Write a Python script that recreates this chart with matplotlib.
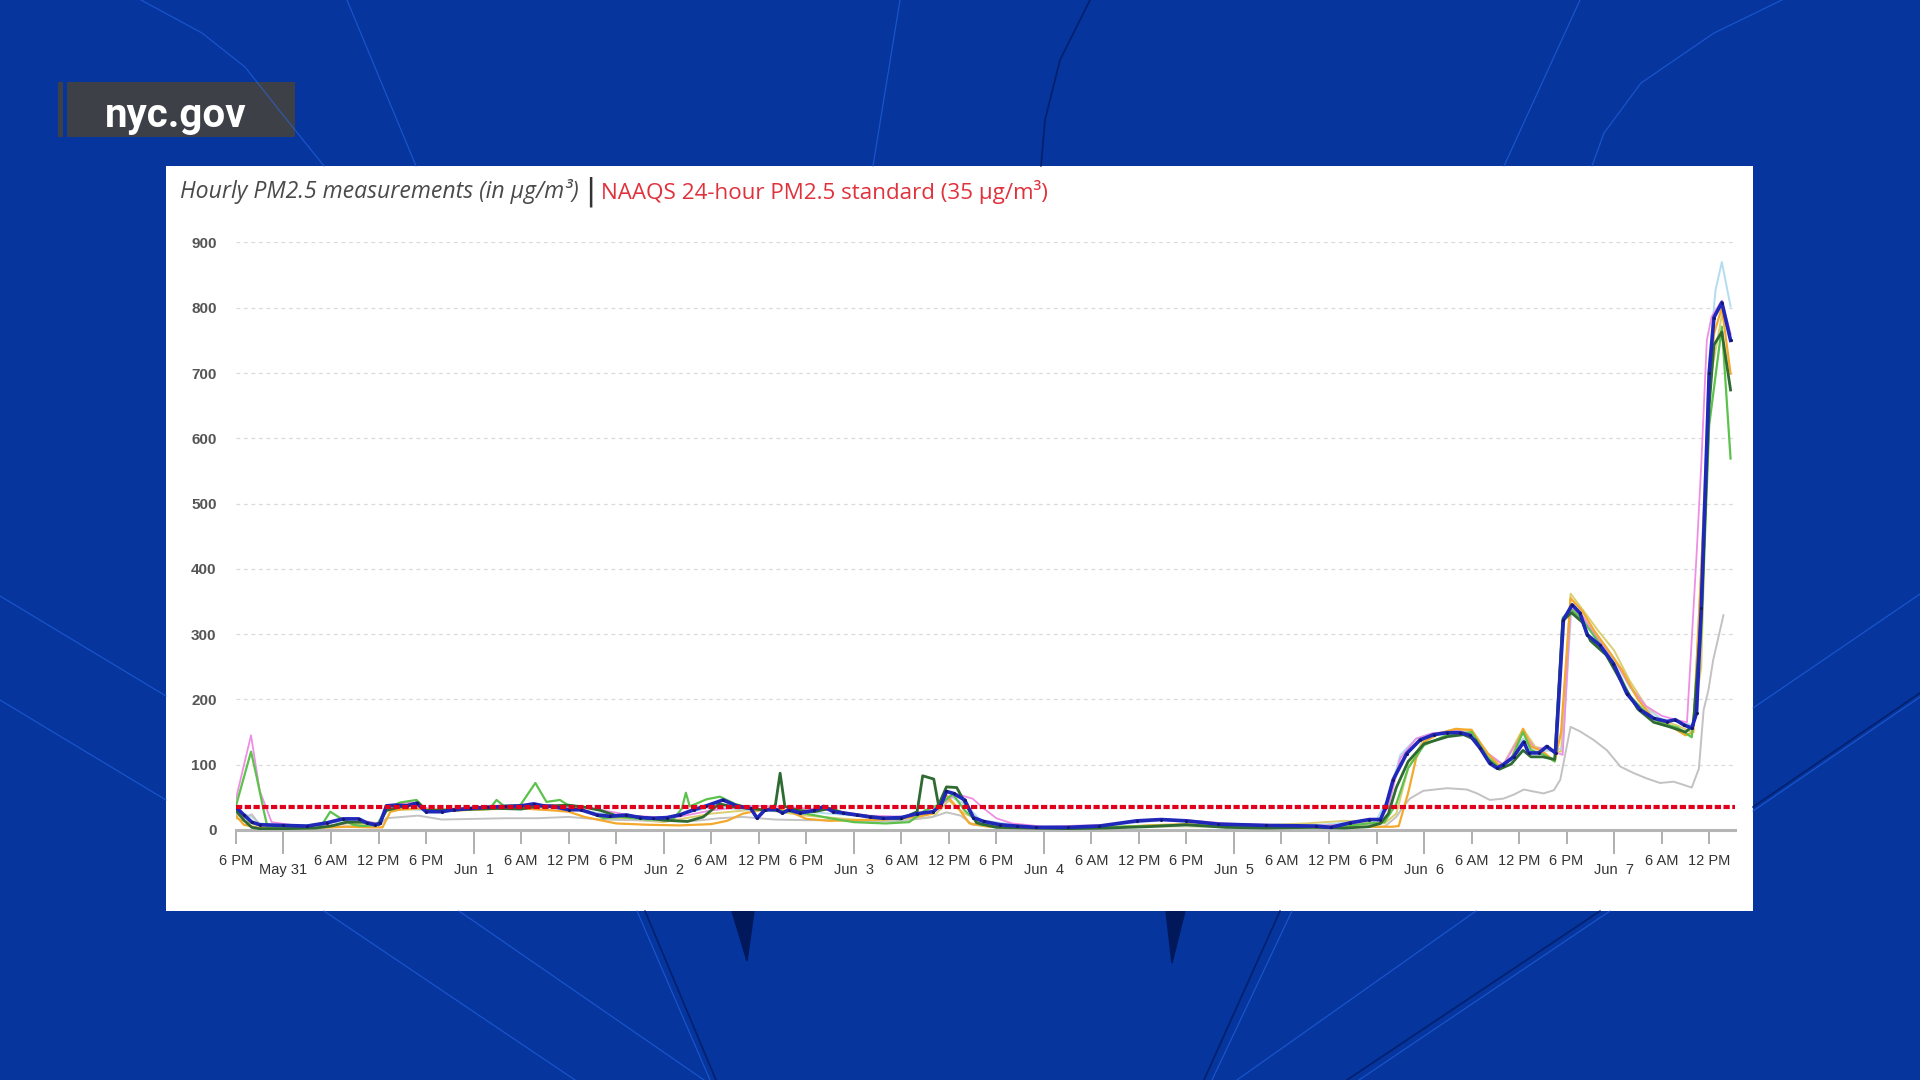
import matplotlib
matplotlib.use("Agg")
import matplotlib.pyplot as plt
from matplotlib.patches import Rectangle, Polygon

plt.rcParams['font.family'] = ['Liberation Sans', 'DejaVu Sans']

# Horas contadas a partir de 30/mai 18h (6 PM)
blue_h = [0, 1, 2, 3, 6, 9, 11.5, 13.5, 15.5, 16.5, 17.5, 18.2, 19, 20.3, 21.6, 22.8, 24, 26, 27.5, 29.6,
          31.7, 34, 36, 37.6, 38.8, 40, 42, 43.5, 45.6, 47.2, 49.3, 51, 52.7, 54.4, 56, 57.8, 59.4, 61.5, 63.2, 65,
          65.8, 66.8, 68.3, 69, 69.8, 71.2, 73, 74.2, 75.4, 76.7, 78.4, 80, 81.7, 84, 86, 88, 89, 89.7, 90.6, 92,
          93.1, 94.4, 96.5, 98.6, 101, 105, 109, 113.7, 116.8, 120, 124, 130, 136.4, 138.2, 140.7, 143.1, 144.5, 145.1, 146.1, 147.8,
          149.5, 151.2, 152.9, 154.6, 155.8, 157.1, 158.3, 159.2, 160, 161.3, 162.6, 163.2, 164.5, 165.5, 166.6, 167.6, 168.7, 169.7, 170.6, 172.2,
          173.9, 175.6, 177.3, 179, 180.7, 181.7, 182.8, 183.8, 184.4, 185, 186, 186.6, 187.6, 188.7]
blue_v = [35, 23, 12, 8, 7, 6, 11, 17, 17, 11, 8, 10, 37, 38, 37, 41, 28, 28, 31, 33,
          35, 36, 37, 40, 37, 36, 31, 31, 23, 21, 23, 19, 18, 19, 23, 31, 37, 46, 37, 33,
          18, 31, 31, 26, 31, 26, 30, 36, 28, 26, 23, 20, 18, 19, 25, 28, 38, 59, 56, 46,
          19, 13, 8, 6, 4, 4, 6, 14, 16, 14, 9, 7, 6, 4, 11, 16, 16, 33, 77, 117,
          138, 146, 149, 149, 145, 125, 102, 95, 100, 112, 135, 118, 118, 128, 118, 322, 345, 332, 299, 283,
          255, 209, 184, 171, 166, 169, 161, 156, 179, 340, 700, 785, 808, 750]

dkgreen_h = [0, 1, 2, 3, 6, 10, 12, 14, 16, 18, 19, 21, 23, 24, 27, 30, 33, 36, 38, 40,
             42, 44, 46, 48, 51, 54, 57, 59, 61, 63, 65, 67, 68.1, 68.7, 69.3, 71, 73, 75, 77, 79,
             82, 84, 86, 86.7, 88.1, 88.7, 89.7, 91, 92.3, 93.5, 96, 100, 105, 110, 115, 120, 125, 130, 136, 140,
             143, 144.5, 145.5, 146.5, 148, 150, 153, 155, 156.5, 158, 159.5, 161, 162.5, 163.5, 165, 166.5, 167.5, 168.6, 170, 171,
             173, 175, 177, 179, 181, 183, 184, 185, 186, 186.6, 187.6, 188.7]
dkgreen_v = [30, 15, 4, 2, 2, 3, 6, 12, 12, 8, 30, 36, 42, 30, 30, 32, 33, 32, 36, 37,
             38, 35, 30, 22, 20, 15, 13, 20, 40, 35, 33, 30, 38, 87, 36, 30, 28, 33, 25, 22,
             18, 17, 28, 83, 78, 38, 66, 65, 36, 11, 4, 3, 2, 3, 5, 8, 4, 3, 4, 3,
             5, 10, 25, 65, 105, 132, 143, 146, 138, 108, 93, 101, 122, 112, 112, 108, 320, 333, 318, 290,
             268, 225, 185, 165, 158, 150, 160, 330, 650, 743, 763, 674]

ltgreen_h = [0, 1.9, 2.6, 3.5, 4, 10.6, 11.9, 13.2, 14.8, 16, 17.8, 19, 20.7, 22.8, 24, 28, 32, 32.9, 33.8, 35.9,
             37.8, 39.2, 40.9, 42.2, 44.3, 46.4, 48.5, 51.9, 55.2, 56.3, 56.8, 57.3, 59.4, 61.1, 63, 65, 68, 70, 72, 75,
             78, 82, 85, 87, 89, 90.5, 92, 94, 98, 105, 115, 120, 125, 135, 140, 143, 145, 146.5, 148, 150,
             153, 156, 158, 159.5, 161, 162.5, 163.5, 165, 166.5, 167.5, 168.6, 170, 172, 174, 176, 178, 180, 182, 183.8, 185,
             186, 187.6, 188.7]
ltgreen_v = [37, 120, 82, 30, 3, 3, 28, 18, 8, 6, 8, 33, 42, 46, 30, 32, 32, 46, 37, 38,
             72, 43, 46, 36, 28, 18, 20, 16, 16, 33, 57, 36, 47, 51, 40, 33, 30, 28, 25, 18,
             12, 10, 12, 30, 40, 55, 30, 8, 4, 3, 6, 8, 5, 4, 6, 10, 12, 40, 95, 130,
             146, 150, 112, 95, 108, 150, 122, 116, 105, 325, 338, 322, 288, 255, 205, 180, 163, 157, 142, 300,
             620, 771, 569]

orange_h = [0, 1, 3, 6, 10, 14, 17, 18.5, 19.5, 21, 23, 25, 28, 32, 36, 40, 42, 44, 46, 48,
            52, 56, 60, 62, 64, 66, 68, 70, 72, 75, 78, 82, 86, 88, 89.7, 91.4, 92.6, 95, 100, 110,
            115, 120, 125, 130, 140, 146, 146.8, 148, 149, 150, 152, 154, 156, 158, 159.5, 161, 162.5, 163.5, 165, 166.5,
            167.3, 168.5, 170, 171.5, 173, 175, 177, 179, 181, 183, 184, 185, 186, 186.6, 187.6, 188.7]
orange_v = [22, 8, 3, 3, 3, 5, 4, 4, 28, 32, 33, 30, 30, 32, 33, 30, 28, 20, 15, 10,
            8, 7, 9, 14, 25, 30, 33, 28, 17, 14, 15, 16, 20, 25, 53, 30, 10, 5, 3, 3,
            7, 9, 5, 3, 5, 5, 6, 57, 110, 135, 148, 155, 153, 118, 98, 108, 155, 128, 120, 105,
            150, 355, 335, 305, 280, 245, 200, 170, 160, 145, 150, 400, 660, 760, 800, 699]

grey_h = [0, 1, 2, 3, 5, 8, 12, 16, 18, 19, 21, 23, 26, 30, 34, 38, 42, 46, 50, 54,
          58, 61, 64, 68, 72, 76, 80, 84, 88, 89.7, 91.5, 93, 96, 100, 110, 120, 130, 140, 145, 146.5,
          147.4, 148.2, 149.9, 152.9, 155.4, 156.7, 158.3, 160, 161.3, 162.6, 163.8, 165.1, 166.4, 167.2, 168.5, 169.7, 171.4, 173.1, 174.8, 176.5,
          178.1, 179.8, 181.5, 182.8, 183.8, 184.7, 185.3, 185.9, 186.5, 187.8]
grey_v = [25, 18, 24, 8, 5, 5, 5, 6, 6, 18, 20, 22, 16, 17, 18, 18, 20, 16, 15, 14,
          14, 18, 20, 16, 15, 15, 13, 14, 20, 27, 22, 8, 5, 4, 4, 6, 4, 4, 5, 20,
          36, 48, 60, 64, 62, 56, 46, 48, 54, 62, 59, 56, 61, 77, 158, 151, 138, 122, 97, 87,
          79, 72, 74, 69, 65, 94, 184, 214, 260, 329]

pink_h = [0, 1.9, 3, 4.5, 8, 12, 16, 18, 19, 22, 25, 30, 35, 40, 45, 50, 55, 60, 65, 70,
          75, 80, 85, 88, 89.7, 91, 93, 94.4, 96, 98, 102, 110, 117, 120, 125, 135, 144, 145.5, 147, 149,
          151, 154, 156, 158, 160, 162.5, 164, 165.5, 167.5, 168.5, 170, 172, 174, 176, 178, 180, 182, 183.2, 184.4, 185,
          185.7, 186.3, 187.6, 188.7]
pink_v = [48, 145, 60, 12, 6, 7, 14, 10, 38, 42, 30, 34, 35, 38, 33, 22, 18, 30, 37, 35,
          30, 22, 20, 28, 45, 55, 48, 33, 18, 10, 5, 8, 16, 15, 10, 6, 10, 35, 110, 140,
          148, 152, 148, 118, 100, 150, 125, 125, 115, 340, 328, 292, 262, 220, 190, 175, 168, 165, 420, 560,
          750, 786, 811, 760]

ltblue_h = [0, 2, 3, 8, 14, 18, 19, 24, 30, 36, 42, 48, 54, 60, 66, 72, 78, 84, 88, 90,
            92, 94, 100, 110, 117, 125, 135, 144, 145.5, 147, 149, 151, 154, 156, 158, 159.5, 161, 162.5, 164, 166,
            167.5, 168.6, 170, 172, 174, 176, 178, 180, 182, 184, 185, 186, 186.8, 187.6, 188.7]
ltblue_v = [30, 20, 10, 6, 14, 9, 35, 30, 34, 36, 32, 22, 18, 35, 30, 28, 22, 20, 28, 52,
            40, 15, 5, 7, 15, 8, 6, 15, 50, 115, 140, 148, 150, 146, 110, 98, 112, 140, 120, 122,
            125, 338, 325, 292, 262, 218, 186, 170, 166, 160, 400, 720, 827, 870, 802]

khaki_h = [0, 2, 4, 10, 14, 18, 19, 24, 30, 36, 42, 48, 54, 60, 66, 72, 78, 84, 88, 90,
           92, 96, 105, 115, 125, 135, 140, 143, 145, 146.5, 148, 150, 153, 156, 158, 160, 162.5, 164, 165.5, 167.3,
           168.5, 170, 172, 174, 176, 178, 180, 182, 183.8, 185, 186, 187.6, 188.7]
khaki_v = [18, 10, 4, 4, 10, 8, 30, 32, 33, 35, 36, 18, 12, 25, 32, 22, 16, 14, 20, 45,
           25, 6, 4, 6, 5, 10, 14, 12, 10, 25, 95, 140, 152, 154, 115, 100, 155, 128, 122, 120,
           362, 338, 305, 275, 228, 190, 168, 160, 150, 250, 680, 789, 760]

naaqs = 35
y_ticks = [0, 100, 200, 300, 400, 500, 600, 700, 800, 900]
day_hours = [6, 30, 54, 78, 102, 126, 150, 174]
day_labels = ["May 31", "Jun  1", "Jun  2", "Jun  3", "Jun  4", "Jun  5", "Jun  6", "Jun  7"]
sub_hours = [0, 12, 18, 24, 36, 42, 48, 60, 66, 72, 84, 90, 96, 108, 114, 120,
             132, 138, 144, 156, 162, 168, 180, 186]
sub_labels = ["6 PM"] + ["6 AM", "12 PM", "6 PM"] * 7 + ["6 AM", "12 PM"]

fig = plt.figure(figsize=(19.2, 10.8), dpi=100, facecolor='#05359d')

# --- fundo (coordenadas em pixels) ---
bg = fig.add_axes([0, 0, 1, 1])
bg.set_xlim(0, 1920)
bg.set_ylim(1080, 0)
bg.axis('off')
bg.set_zorder(0)

luz = '#2d6cf0'
escuro = '#01185a'
linhas_claras = [
    [(141, 0), (202, 33), (245, 67), (279, 110), (324, 166)],
    [(347, 0), (416, 166)],
    [(900, 0), (873, 166)],
    [(1580, 0), (1504, 166)],
    [(1782, 0), (1714, 33), (1641, 83), (1604, 133), (1592, 166)],
    [(324, 911), (575, 1080)],
    [(459, 911), (704, 1080)],
    [(637, 911), (710, 1080)],
    [(1292, 911), (1212, 1080)],
    [(1476, 911), (1237, 1080)],
    [(1610, 911), (1359, 1080)],
    [(1753, 708), (1920, 594)],
    [(1753, 811), (1920, 697)],
    [(0, 596), (166, 696)],
    [(0, 700), (166, 800)],
]
linhas_escuras = [
    [(1090, 0), (1060, 60), (1045, 120), (1041, 166)],
    [(645, 911), (716, 1080)],
    [(1280, 911), (1204, 1080)],
    [(1600, 911), (1347, 1080)],
    [(1753, 807), (1920, 693)],
]
for pts in linhas_claras:
    xs, ys = zip(*pts)
    bg.plot(xs, ys, color=luz, lw=0.9, alpha=0.55)
for pts in linhas_escuras:
    xs, ys = zip(*pts)
    bg.plot(xs, ys, color=escuro, lw=1.2, alpha=0.7)
bg.add_patch(Polygon([(732, 911), (754, 911), (747, 961)], closed=True, color=escuro))
bg.add_patch(Polygon([(1166, 911), (1185, 911), (1172, 963)], closed=True, color=escuro))

# painel branco
bg.add_patch(Rectangle((166, 166), 1587, 745, facecolor='white', edgecolor='none'))

# selo nyc.gov
bg.add_patch(Rectangle((57.5, 82), 5, 55, facecolor='#3d4047', edgecolor='none'))
bg.add_patch(Rectangle((67, 82), 228, 55, facecolor='#3d4047', edgecolor='none'))
bg.text(175.5, 127, "nyc.gov", color='white', fontsize=29, fontweight='bold',
        family='Roboto', ha='center', va='baseline')

# --- titulo ---
t1 = bg.text(180, 192, "Hourly PM2.5 measurements (in µg/m³)", fontsize=16.6, style='italic',
             color='#4a4a4a', family='Open Sans', va='center', ha='left')
t2 = bg.annotate("|", xy=(1, 0.5), xycoords=t1, xytext=(5, 0), textcoords='offset points',
                 fontsize=22, color='#333333', va='center', ha='left', family='DejaVu Sans')
bg.annotate("NAAQS 24-hour PM2.5 standard (35 µg/m³)", xy=(1, 0.5), xycoords=t2, xytext=(4, 0),
            textcoords='offset points', fontsize=16.1, color='#e0323c', va='center', ha='left',
            family='Open Sans')

# --- grafico ---
ax = fig.add_axes([0.1229, 0.2315, 0.7805, 0.544])
ax.set_zorder(2)
ax.set_facecolor('white')

series = [
    (khaki_h, khaki_v, '#d9cf72', 1.4),
    (ltblue_h, ltblue_v, '#b3dcf0', 1.4),
    (pink_h, pink_v, '#ee8fe4', 1.3),
    (grey_h, grey_v, '#c2c2c2', 1.4),
    (orange_h, orange_v, '#f4a92c', 1.6),
    (ltgreen_h, ltgreen_v, '#5cc24c', 1.6),
    (dkgreen_h, dkgreen_v, '#2e6a31', 2.0),
]
for i, (hh, vv, cor, lw) in enumerate(series):
    ax.plot(hh, vv, color=cor, lw=lw, zorder=3 + i, solid_joinstyle='round')

ax.plot(blue_h, blue_v, color='#1f28b8', lw=2.6, zorder=12, solid_joinstyle='round',
        marker='o', ms=2.2, mfc='#15166e', mec='none')

ax.axhline(naaqs, color='#e0001b', lw=3, ls=(0, (1.5, 0.6)), zorder=20)

ax.set_xlim(0, 189.2)
ax.set_ylim(0, 900)
ax.set_yticks(y_ticks)
ax.yaxis.grid(True, color='#dadada', ls=(0, (3, 3)), lw=0.9)
ax.set_axisbelow(True)
ax.tick_params(axis='y', length=0, pad=14, labelsize=11, labelcolor='#555555')
for lbl in ax.get_yticklabels():
    lbl.set_fontweight('bold')

ax.set_xticks(day_hours)
ax.set_xticklabels(day_labels)
ax.set_xticks(sub_hours, minor=True)
ax.set_xticklabels(sub_labels, minor=True)
ax.tick_params(axis='x', which='major', length=17, width=1.3, color='#a9a9a9', pad=7,
               labelsize=10.5, labelcolor='#333333')
ax.tick_params(axis='x', which='minor', length=10, width=1.3, color='#a9a9a9', pad=7,
               labelsize=10.5, labelcolor='#333333')

for lado in ['top', 'right', 'left']:
    ax.spines[lado].set_visible(False)
ax.spines['bottom'].set_color('#b5b5b5')
ax.spines['bottom'].set_linewidth(2.2)

plt.savefig("out.png", dpi=100, facecolor=fig.get_facecolor())
